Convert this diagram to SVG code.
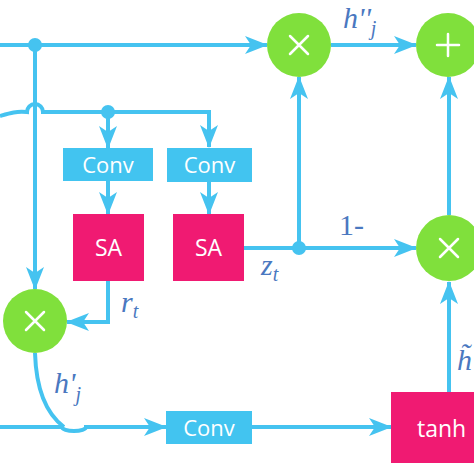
<svg xmlns="http://www.w3.org/2000/svg" width="474" height="474" viewBox="0 0 474 474">
<style>
.ln{fill:none;stroke:#45c3f0;stroke-width:4;stroke-linejoin:miter}
.dot{fill:#45c3f0}
.op{fill:#80e03c}
.opt{stroke:#ffffff;stroke-width:2.5;stroke-linecap:round;fill:none}
.conv{fill:#42c4f0}
.sa{fill:#f01a72}
.bt{font-family:"Open Sans","Liberation Sans",sans-serif;fill:#ffffff;text-anchor:middle}
.var{font-family:"Liberation Serif",serif;font-style:italic;fill:#4a78c0}
</style>
<defs>
<marker id="ah" markerUnits="userSpaceOnUse" markerWidth="24" markerHeight="24" viewBox="0 0 24 24" refX="22" refY="12" orient="auto">
<path d="M0,3 L23,12 L0,21 L6,12 Z" fill="#45c3f0"/>
</marker>
</defs>
<rect width="474" height="474" fill="#ffffff"/>
<g id="connectors">
<path class="ln" d="M0,45 H267" marker-end="url(#ah)"/>
<path class="ln" d="M331,45 H416" marker-end="url(#ah)"/>
<path class="ln" d="M35,45 V289" marker-end="url(#ah)"/>
<path class="ln" d="M0,116 C10,113 16,111 27,112 A8,8 0 0 1 43,112 H209 V147" marker-end="url(#ah)"/>
<path class="ln" d="M108,112 V148" marker-end="url(#ah)"/>
<path class="ln" d="M108,181 V214" marker-end="url(#ah)"/>
<path class="ln" d="M209,182 V214" marker-end="url(#ah)"/>
<path class="ln" d="M108,281 V322 H67" marker-end="url(#ah)"/>
<path class="ln" d="M244,248 H416" marker-end="url(#ah)"/>
<path class="ln" d="M299,248 V77" marker-end="url(#ah)"/>
<path class="ln" d="M449,215 V77" marker-end="url(#ah)"/>
<path class="ln" d="M449,392 V282" marker-end="url(#ah)"/>
<path class="ln" d="M35,353 C36,385 44,412 64,427"/>
<path class="ln" d="M0,427 H62 A12,4 0 0 0 86,427 H166" marker-end="url(#ah)"/>
<path class="ln" d="M252,427 H391" marker-end="url(#ah)"/>
<circle class="dot" cx="35" cy="45" r="7"/>
<circle class="dot" cx="108" cy="112" r="7"/>
<circle class="dot" cx="299" cy="248" r="7"/>
</g>
<g id="mul-top">
<circle class="op" cx="299" cy="45" r="32"/>
<path class="opt" d="M290,36 L308,54 M308,36 L290,54"/>
</g>
<g id="add">
<circle class="op" cx="448" cy="45" r="32"/>
<path class="opt" d="M448,34 V56 M437,45 H459" stroke-width="4"/>
</g>
<g id="mul-right">
<circle class="op" cx="449" cy="248" r="33"/>
<path class="opt" d="M440,239 L458,257 M458,239 L440,257"/>
</g>
<g id="mul-left">
<circle class="op" cx="35" cy="321" r="32"/>
<path class="opt" d="M26,312 L44,330 M44,312 L26,330"/>
</g>
<g id="conv1">
<rect class="conv" x="63" y="148" width="90" height="33"/>
<text class="bt" x="108" y="172.5" font-size="22">Conv</text>
</g>
<g id="conv2">
<rect class="conv" x="167" y="148" width="85" height="34"/>
<text class="bt" x="209.5" y="172.5" font-size="22">Conv</text>
</g>
<g id="sa1">
<rect class="sa" x="73" y="214" width="71" height="67"/>
<text class="bt" x="108.5" y="256" font-size="23">SA</text>
</g>
<g id="sa2">
<rect class="sa" x="173" y="214" width="71" height="67"/>
<text class="bt" x="208.5" y="256" font-size="23">SA</text>
</g>
<g id="conv3">
<rect class="conv" x="166" y="411" width="86" height="33"/>
<text class="bt" x="209" y="435.5" font-size="22">Conv</text>
</g>
<g id="tanh">
<rect class="sa" x="391" y="392" width="90" height="71"/>
<text class="bt" x="417" y="437" font-size="23" style="text-anchor:start">tanh</text>
</g>
<g id="labels">
<text class="var" x="343" y="28" font-size="30">h''<tspan font-size="20" dy="7">j</tspan></text>
<text class="var" x="339" y="235" font-size="30" style="font-style:normal">1-</text>
<text class="var" x="261" y="275" font-size="30">z<tspan font-size="20" dy="6">t</tspan></text>
<text class="var" x="121" y="312" font-size="30">r<tspan font-size="20" dy="6">t</tspan></text>
<text class="var" x="54" y="393" font-size="30">h'<tspan font-size="20" dy="8">j</tspan></text>
<text class="var" x="457" y="370" font-size="30">h̃</text>
</g>
</svg>
